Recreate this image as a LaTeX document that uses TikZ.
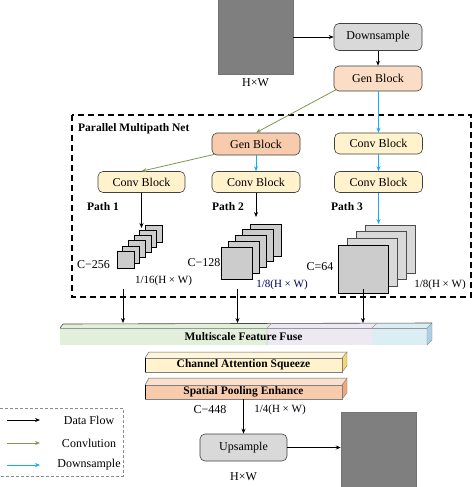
\documentclass[tikz,border=0pt]{standalone}
\usepackage{fontspec}
\setmainfont{Liberation Serif}
\usetikzlibrary{arrows.meta,calc}
\definecolor{convfill}{HTML}{FFF2CC}
\definecolor{genfill}{HTML}{F8CBAD}
\definecolor{gentop}{HTML}{FBDCC4}
\definecolor{dsfill}{HTML}{D9D9D9}
\definecolor{olivearrow}{HTML}{7F9A4E}
\definecolor{bluearrow}{HTML}{14ADEE}
\definecolor{fuseA}{HTML}{E2EFDA}
\definecolor{fuseB}{HTML}{ECE9F3}
\definecolor{fuseC}{HTML}{DAEEF3}
\definecolor{fuseside}{HTML}{A9D0E4}
\definecolor{chanfill}{HTML}{FFF2CC}
\definecolor{chanside}{HTML}{F5D56E}
\definecolor{spatfill}{HTML}{F8CBAD}
\definecolor{spatside}{HTML}{F0A878}
\definecolor{imggray}{HTML}{7F7F7F}
\tikzset{
  blockbox/.style={draw=black!75, line width=0.6pt, rounded corners=5pt,
    minimum width=88pt, minimum height=21pt, inner sep=0pt,
    font=\fontsize{12}{14}\selectfont},
  imgsq/.style={draw=black!55, fill=imggray, line width=0.5pt, inner sep=0pt},
  lbl/.style={inner sep=0pt, font=\fontsize{12}{14}\selectfont},
  smlbl/.style={inner sep=0pt, font=\fontsize{11}{13}\selectfont},
  boldlbl/.style={inner sep=0pt, font=\fontsize{11.5}{13}\selectfont\bfseries},
  flow/.style={black, line width=0.7pt, -{Stealth[length=5pt,width=4pt]}},
  convarrow/.style={olivearrow, line width=0.8pt, -{Stealth[length=5pt,width=4pt]}},
  downarrow/.style={bluearrow, line width=0.9pt, -{Stealth[length=5pt,width=4pt]}},
  fmap/.style={draw=black, fill=gray!40, line width=0.5pt},
  fmapl/.style={draw=black!70, fill=gray!30, line width=0.5pt},
}
\begin{document}
\begin{tikzpicture}[x=1pt,y=-1pt]
\path[use as bounding box] (0,0) rectangle (474,487);
\fill[white] (0,0) rectangle (474,487);

% input image and top blocks
\node[imgsq, minimum width=75pt, minimum height=76pt] (inimg) at (255.5,36) {};
\node[lbl] (inlbl) at (255.5,83) {H×W};
\node[blockbox, fill=dsfill, minimum height=27pt] (down) at (378,37) {Downsample};
\node[blockbox, fill=gentop, minimum height=25pt] (gen0) at (378,78.5) {Gen Block};
\draw[flow] (inimg.east |- down.west) -- (down.west);
\draw[flow] (down.south) -- (gen0.north);

% parallel multipath net frame
\draw[black, line width=1.1pt, dash pattern=on 6pt off 4pt] (72,115) rectangle (471,297);
\node[boldlbl, anchor=west] (pmn) at (78,129) {Parallel Multipath Net};

\node[blockbox, fill=genfill, minimum height=22pt] (gen1) at (256,144) {Gen Block};
\node[blockbox, fill=convfill, minimum height=21pt] (cbt) at (378.5,143.5) {Conv Block};
\node[blockbox, fill=convfill, minimum width=87pt, minimum height=21pt] (cb1) at (141.5,182) {Conv Block};
\node[blockbox, fill=convfill, minimum height=21pt] (cb2) at (256,182) {Conv Block};
\node[blockbox, fill=convfill, minimum height=21pt] (cb3) at (378.5,182) {Conv Block};

\draw[convarrow] ($(gen0.south west)+(3,-2)$) -- (gen1.north);
\draw[convarrow] ($(gen1.south west)+(3,-1)$) -- (cb1.north);
\draw[downarrow] (gen0.south -| cbt.north) -- (cbt.north);
\draw[downarrow] (gen1.south) -- (cb2.north);
\draw[downarrow] (cbt.south) -- (cb3.north);

\node[boldlbl] (p1) at (103,207) {Path 1};
\node[boldlbl] (p2) at (228,207) {Path 2};
\node[boldlbl] (p3) at (347,207) {Path 3};

% feature map stacks
\foreach \i in {5,4,...,0}{
  \draw[fmap] (117+5.6*\i,251-5.2*\i) rectangle ++(17,17);
}
\foreach \i in {4,3,...,0}{
  \draw[fmap] (221+7.2*\i,247-5.8*\i) rectangle ++(31,32);
}
\foreach \i in {3,2,1}{
  \draw[fmapl] (338+9*\i,245-6.7*\i) rectangle ++(50,48);
}
\draw[fmap] (338,245) rectangle ++(50,48);

\coordinate (t1) at (141.5,228);
\coordinate (t2) at (256,217);
\coordinate (t3) at (378.5,224);
\draw[flow] (cb1.south) -- (t1);
\draw[flow] (cb2.south) -- (t2);
\draw[downarrow] (cb3.south) -- (t3);

\node[lbl] (c1) at (93.5,265) {C−256};
\node[smlbl] (s1) at (163.5,281) {1/16(H × W)};
\node[lbl] (c2) at (204,263) {C−128};
\node[smlbl, text=blue!40!black] (s2) at (282,285) {1/8(H × W)};
\node[lbl] (c3) at (320,267) {C=64};
\node[smlbl] (s3) at (440,285) {1/8(H × W)};

% multiscale feature fuse bar
\fill[fuseA] (60,328) rectangle (267,345);
\fill[fuseB] (267,328) rectangle (372,345);
\fill[fuseC] (372,328) rectangle (427,345);
\fill[fuseA] (60,328) -- (63,324) -- (272,323) -- (267,328) -- cycle;
\fill[fuseB] (267,328) -- (272,323) -- (377,323) -- (372,328) -- cycle;
\fill[fuseC] (372,328) -- (377,323) -- (432,323) -- (427,328) -- cycle;
\filldraw[fuseside, draw=black!40, line width=0.4pt] (427,328) -- (432,323) -- (432,340) -- (427,345) -- cycle;
\draw[black!70, line width=0.6pt] (60,328) -- (63,324) -- (432,323);
\draw[black!40, line width=0.4pt] (60,328) -- (427,328);
\draw[black!40, line width=0.4pt] (267,328) -- (272,323) (372,328) -- (377,323) (267,328) -- (267,345);
\node[inner sep=0pt, minimum width=367pt, minimum height=17pt, font=\fontsize{11.5}{13}\selectfont\bfseries] (fuse) at (243.5,336.5) {Multiscale Feature Fuse};

\coordinate (f1) at (123,289);
\coordinate (f2) at (237.5,289);
\coordinate (f3) at (363,289);
\draw[flow] (f1) -- (f1 |- 0,323);
\draw[flow] (f2) -- (f2 |- 0,323);
\draw[flow] (f3) -- (f3 |- 0,323);

% channel attention squeeze bar
\fill[chanfill!70!white] (145,358) -- (149,352) -- (347,352) -- (342,358) -- cycle;
\filldraw[chanside, draw=black!50, line width=0.4pt] (342,358) -- (347,352) -- (347,366) -- (342,372) -- cycle;
\draw[black!60, line width=0.5pt] (145,358) -- (149,352) -- (347,352);
\node[draw=black!50, line width=0.4pt, fill=chanfill, inner sep=0pt, minimum width=197pt, minimum height=14pt, font=\fontsize{11.5}{13}\selectfont\bfseries] (chan) at (243.5,365) {Channel Attention Squeeze};
\draw[black, line width=1pt] (145,358) -- (145,372);

% spatial pooling enhance bar
\fill[spatfill!60!white] (145,385) -- (149,378) -- (347,378) -- (342,385) -- cycle;
\filldraw[spatside, draw=black!50, line width=0.4pt] (342,385) -- (347,378) -- (347,393) -- (342,399) -- cycle;
\draw[black!60, line width=0.5pt] (145,385) -- (149,378) -- (347,378);
\node[draw=black!50, line width=0.4pt, fill=spatfill, inner sep=0pt, minimum width=197pt, minimum height=14pt, font=\fontsize{11.5}{13}\selectfont\bfseries] (spat) at (243.5,392) {Spatial Pooling Enhance};
\draw[black, line width=1pt] (145,385) -- (145,399);

% output part
\node[lbl] (c4) at (210,410) {C−448};
\node[smlbl] (s4) at (280,410) {1/4(H × W)};
\node[blockbox, fill=dsfill, minimum width=87pt, minimum height=27pt] (up) at (243.5,447.5) {Upsample};
\draw[flow] (spat.south -| up.north) -- (up.north);
\node[imgsq, minimum width=75pt, minimum height=78pt] (outimg) at (378.5,451) {};
\draw[flow] (up.east) -- (outimg.west |- up.east);
\node[lbl] (outlbl) at (243.5,477) {H×W};

% legend
\draw[black!45, line width=0.5pt, dash pattern=on 3pt off 2pt] (0,408) -- (123,408) -- (123,476) -- (0,476);
\coordinate (la1) at (7,420); \coordinate (lb1) at (40,420);
\coordinate (la2) at (7,443); \coordinate (lb2) at (40,443);
\coordinate (la3) at (7,465); \coordinate (lb3) at (40,465);
\draw[flow, line width=0.9pt] (la1) -- (lb1);
\draw[convarrow] (la2) -- (lb2);
\draw[downarrow] (la3) -- (lb3);
\node[lbl] (lg1) at (89,420) {Data Flow};
\node[lbl] (lg2) at (89,443) {Convlution};
\node[lbl] (lg3) at (89,465) {Downsample};
\end{tikzpicture}
\end{document}
